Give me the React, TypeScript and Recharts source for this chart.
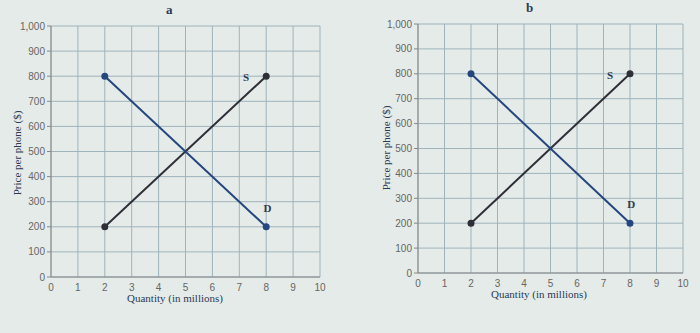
import React from "react";
import { LineChart, Line, XAxis, YAxis, CartesianGrid, ReferenceDot } from "recharts";

const demand = [
  { q: 2, p: 800 },
  { q: 8, p: 200 },
];
const supply = [
  { q: 2, p: 200 },
  { q: 8, p: 800 },
];
const xTicks = [0, 1, 2, 3, 4, 5, 6, 7, 8, 9, 10];
const yTicks = [0, 100, 200, 300, 400, 500, 600, 700, 800, 900, 1000];
const curveLabels = [
  { text: "S", q: 7.25, p: 795 },
  { text: "D", q: 8.05, p: 275 },
];
const panels = ["a", "b"];

const GRID = "#9fb3bb";
const TICK = "#666";
const serif = "'Liberation Serif', 'DejaVu Serif', serif";
const sans = "'Liberation Sans', Arial, sans-serif";

type PanelProps = { title: string; margin: { top: number; right: number; bottom: number; left: number } };

function Panel({ title, margin }: PanelProps) {
  return (
    <LineChart width={350} height={333} margin={margin}>
      <CartesianGrid stroke={GRID} strokeWidth={1} horizontal vertical />
      <XAxis
        type="number"
        dataKey="q"
        domain={[0, 10]}
        ticks={xTicks}
        interval={0}
        stroke="#888"
        tickLine={false}
        tick={{ fill: TICK, fontSize: 10, fontFamily: sans }}
        tickMargin={1}
        height={30}
      />
      <YAxis
        type="number"
        dataKey="p"
        domain={[0, 1000]}
        ticks={yTicks}
        interval={0}
        stroke="#888"
        tickSize={4}
        tick={{ fill: TICK, fontSize: 10, fontFamily: sans }}
        tickFormatter={(v: number) => (v === 1000 ? "1,000" : String(v))}
        width={40}
      />
      <Line
        data={supply}
        dataKey="p"
        stroke="#2f2f38"
        strokeWidth={2}
        dot={{ r: 2.5, fill: "#2f2f38", stroke: "#2f2f38" }}
        isAnimationActive={false}
      />
      <Line
        data={demand}
        dataKey="p"
        stroke="#25467e"
        strokeWidth={2}
        dot={{ r: 2.5, fill: "#25467e", stroke: "#25467e" }}
        isAnimationActive={false}
      />
      {curveLabels.map((l) => (
        <ReferenceDot
          key={l.text}
          x={l.q}
          y={l.p}
          r={0}
          fill="none"
          stroke="none"
          label={{ value: l.text, fill: "#2d3a55", fontSize: 11, fontFamily: serif, fontWeight: "bold" }}
        />
      ))}
    </LineChart>
  );
}

export default function App() {
  const common: React.CSSProperties = { position: "absolute", fontFamily: serif, color: "#2d3a55", lineHeight: 1 };
  return (
    <div
      style={{
        position: "absolute",
        left: 0,
        top: 0,
        width: 700,
        height: 333,
        background: "#e5ebe8",
        overflow: "hidden",
      }}
    >
      <div style={{ position: "absolute", left: 0, top: 0 }}>
        <Panel title={panels[0]} margin={{ top: 26, right: 30, bottom: 26, left: 11 }} />
      </div>
      <div style={{ position: "absolute", left: 350, top: 0 }}>
        <Panel title={panels[1]} margin={{ top: 24, right: 17, bottom: 30, left: 28 }} />
      </div>
      <div style={{ ...common, left: 166, top: 3, fontSize: 13, fontWeight: "bold" }}>{panels[0]}</div>
      <div style={{ ...common, left: 526, top: 1, fontSize: 13, fontWeight: "bold" }}>{panels[1]}</div>
      <div style={{ ...common, left: 127, top: 293, fontSize: 11 }}>Quantity (in millions)</div>
      <div style={{ ...common, left: 491, top: 289, fontSize: 11 }}>Quantity (in millions)</div>
      <div
        style={{
          ...common,
          left: 17,
          top: 153,
          fontSize: 11,
          whiteSpace: "nowrap",
          transform: "translate(-50%, -50%) rotate(-90deg)",
        }}
      >
        Price per phone ($)
      </div>
      <div
        style={{
          ...common,
          left: 386,
          top: 148,
          fontSize: 11,
          whiteSpace: "nowrap",
          transform: "translate(-50%, -50%) rotate(-90deg)",
        }}
      >
        Price per phone ($)
      </div>
    </div>
  );
}
